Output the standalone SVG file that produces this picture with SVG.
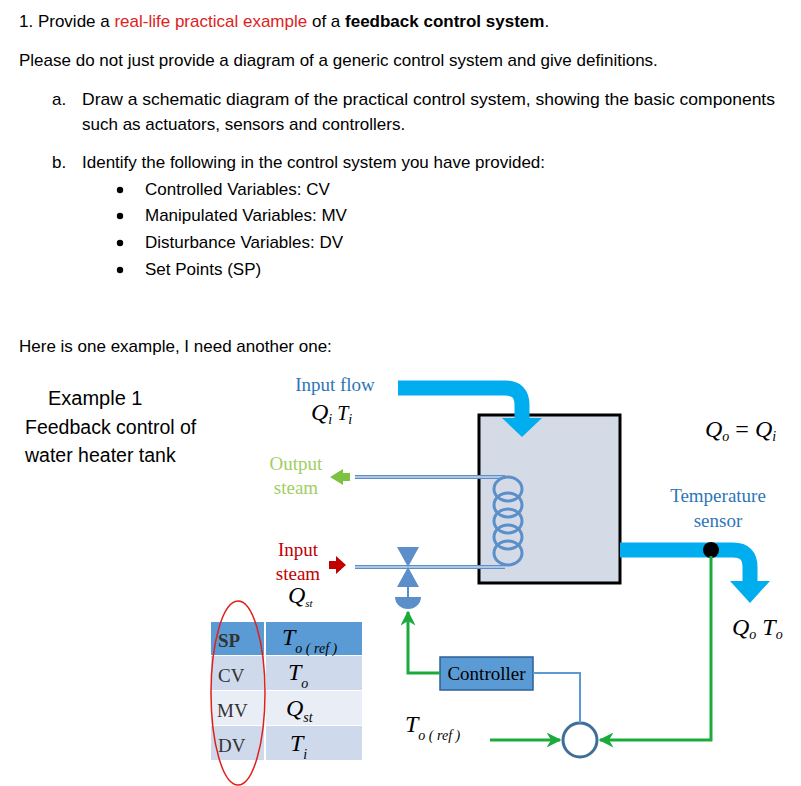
<svg xmlns="http://www.w3.org/2000/svg" width="801" height="786" viewBox="0 0 801 786">
<defs>
<style>
.t{font-family:"Liberation Sans",Arial,sans-serif;font-size:17px;fill:#000}
.s{font-family:"Liberation Serif","Times New Roman",serif;font-size:19px}
.m{font-family:"Liberation Serif","Times New Roman",serif;font-style:italic;font-size:24px;fill:#000}
.sub{font-size:14px}
.g{stroke:#1aab3c;stroke-width:3;fill:none}
.pipe{stroke:#00aeef;stroke-width:15;fill:none}
.sp{stroke:#5b8fc9;stroke-width:4;fill:none}
.spi{stroke:#c9d9ee;stroke-width:1.5;fill:none}
</style>
<marker id="ga" viewBox="0 0 10 10" refX="9" refY="5" markerWidth="5" markerHeight="5" orient="auto"><path d="M0,0 L10,5 L0,10 L3,5z" fill="#1aab3c"/></marker>
</defs>
<rect width="801" height="786" fill="#fff"/>
<g id="text">
<text class="t" x="19" y="27">1. Provide a <tspan fill="#e0211b">real-life practical example</tspan> of a <tspan font-weight="bold">feedback control system</tspan>.</text>
<text class="t" x="19" y="66">Please do not just provide a diagram of a generic control system and give definitions.</text>
<text class="t" x="52" y="105">a.</text>
<text class="t" x="82" y="105" textLength="693" lengthAdjust="spacingAndGlyphs">Draw a schematic diagram of the practical control system, showing the basic components</text>
<text class="t" x="82" y="130">such as actuators, sensors and controllers.</text>
<text class="t" x="52" y="168">b.</text>
<text class="t" x="82" y="168">Identify the following in the control system you have provided:</text>
<circle cx="120" cy="190" r="3.2"/><text class="t" x="145" y="195">Controlled Variables: CV</text>
<circle cx="120" cy="216" r="3.2"/><text class="t" x="145" y="221">Manipulated Variables: MV</text>
<circle cx="120" cy="243" r="3.2"/><text class="t" x="145" y="248">Disturbance Variables: DV</text>
<circle cx="120" cy="270" r="3.2"/><text class="t" x="145" y="275">Set Points (SP)</text>
<text class="t" x="19" y="352">Here is one example, I need another one:</text>
<text class="t" x="48" y="405" style="font-size:20px">Example 1</text>
<text class="t" x="25" y="434" style="font-size:19.5px">Feedback control of</text>
<text class="t" x="25" y="462" style="font-size:19.5px">water heater tank</text>
</g>
<g id="tank">
<rect x="479" y="415" width="141" height="168" fill="#d4dae6" stroke="#000" stroke-width="3"/>
</g>
<g id="pipes">
<path class="pipe" d="M398,388 H505 Q522,388 522,405 V420"/>
<path d="M502,418 H542 L522,437z" fill="#00aeef"/>
<path class="pipe" d="M620,550 H733 Q750,550 750,567 V583"/>
<path d="M730,581 H770 L750,603z" fill="#00aeef"/>
<path class="sp" d="M355,477 H505"/><path class="spi" d="M355,477 H505"/>
<path class="sp" d="M355,567 H505"/><path class="spi" d="M355,567 H505"/>
<g stroke="#5b8fc9" stroke-width="3" fill="none">
<ellipse cx="508" cy="489" rx="14" ry="12"/>
<ellipse cx="508" cy="505" rx="14" ry="12"/>
<ellipse cx="508" cy="521" rx="14" ry="12"/>
<ellipse cx="508" cy="537" rx="14" ry="12"/>
<ellipse cx="508" cy="553" rx="14" ry="12"/>
</g>
<path d="M343,469 V485 L330,477z M343,473 H350 V481 H343z" fill="#7dc242"/>
<path d="M329,561 H336 V556 L346,565 L336,574 V569 H329z" fill="#c00000"/>
</g>
<g id="valve">
<path d="M397,547 H419 L408,567z M397,587 H419 L408,567z" fill="#5b8fc9"/>
<line x1="408" y1="587" x2="408" y2="597" stroke="#5b8fc9" stroke-width="2"/>
<path d="M395,597 H421 A13,12 0 0 1 395,597z" fill="#5b8fc9"/>
</g>
<g id="sensor"><circle cx="711" cy="550" r="8" fill="#000"/></g>
<g id="controller">
<rect x="440" y="657" width="93" height="33" fill="#5b9bd5" stroke="#2e5f96" stroke-width="1.5"/>
<text x="486.5" y="680" text-anchor="middle" class="s" font-size="18">Controller</text>
</g>
<g id="sum"><circle cx="580" cy="740" r="17" fill="#fff" stroke="#3f6e99" stroke-width="3"/></g>
<g id="connectors">
<path class="g" d="M711,556 V740 H600" marker-end="url(#ga)"/>
<path class="g" d="M490,740 H560" marker-end="url(#ga)"/>
<path class="g" d="M440,673 H408 V612" marker-end="url(#ga)"/>
<path d="M533,673 H580 V723" stroke="#5b9bd5" stroke-width="2" fill="none"/>
</g>
<g id="labels">
<text class="s" x="335" y="391" text-anchor="middle" font-size="21" fill="#2e75b6">Input flow</text>
<text class="m" x="311" y="420">Q<tspan class="sub" dy="4">i</tspan><tspan dy="-4" font-size="20"> T</tspan><tspan class="sub" dy="4">i</tspan></text>
<text class="s" x="296" y="470" text-anchor="middle" fill="#9fce63">Output</text>
<text class="s" x="296" y="494" text-anchor="middle" fill="#9fce63">steam</text>
<text class="s" x="298" y="556" text-anchor="middle" fill="#c00000">Input</text>
<text class="s" x="298" y="580" text-anchor="middle" fill="#c00000">steam</text>
<text class="m" x="288" y="603" font-size="19">Q<tspan font-size="11" dy="4">st</tspan></text>
<text class="m" x="705" y="437" font-size="22">Q<tspan class="sub" dy="4">o</tspan><tspan dy="-4" font-style="normal"> = </tspan>Q<tspan class="sub" dy="4">i</tspan></text>
<text class="s" x="718" y="502" text-anchor="middle" fill="#2e75b6">Temperature</text>
<text class="s" x="718" y="527" text-anchor="middle" fill="#2e75b6">sensor</text>
<text class="m" x="732" y="635" font-size="22">Q<tspan class="sub" dy="4">o</tspan><tspan dy="-4"> T</tspan><tspan class="sub" dy="4">o</tspan></text>
<text class="m" x="405" y="732">T<tspan class="sub" dy="8">o ( ref  )</tspan></text>
</g>
<g id="table">
<rect x="211" y="622" width="151" height="33" fill="#5b9bd5"/>
<rect x="211" y="656" width="151" height="34" fill="#cfd9ec"/>
<rect x="211" y="691" width="151" height="34" fill="#e9edf5"/>
<rect x="211" y="726" width="151" height="34" fill="#cfd9ec"/>
<line x1="265" y1="622" x2="265" y2="760" stroke="#fff" stroke-width="2"/>
<g class="s" font-size="23" fill="#333">
<text x="218" y="647" font-weight="bold">SP</text>
<text x="218" y="682">CV</text>
<text x="217" y="717">MV</text>
<text x="218" y="752">DV</text>
</g>
<text class="m" x="282" y="645" font-size="28">T<tspan font-size="14" dy="8">o ( ref  )</tspan></text>
<text class="m" x="288" y="680" font-size="28">T<tspan font-size="14" dy="8">o</tspan></text>
<text class="m" x="286" y="716" font-size="28">Q<tspan font-size="14" dy="6">st</tspan></text>
<text class="m" x="290" y="751" font-size="28">T<tspan font-size="14" dy="8">i</tspan></text>
<ellipse cx="238" cy="693" rx="27" ry="92" fill="none" stroke="#e0211b" stroke-width="1.5"/>
</g>
</svg>
